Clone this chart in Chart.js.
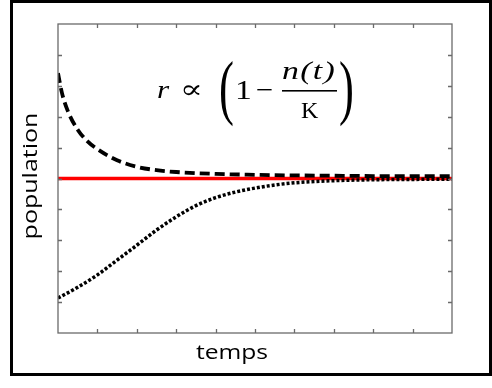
<!DOCTYPE html>
<html>
<head>
<meta charset="utf-8">
<script src="https://cdn.jsdelivr.net/npm/chart.js@4.4.0/dist/chart.umd.min.js"></script>
<style>
  html, body { margin: 0; padding: 0; background: #fff; }
  #frame { position: absolute; left: 10px; top: 0; width: 482px; height: 376px; border: 3px solid #000; box-sizing: border-box; }
  #chart { position: absolute; left: 0; top: 0; }
</style>
</head>
<body>
<div id="frame"></div>
<canvas id="chart" width="492" height="388"></canvas>
<script>
// time axis (arbitrary units) and population
const dashedTime = [0, 0.1, 0.25, 0.5, 0.75, 1, 1.5, 2, 2.5, 3, 4, 5, 6, 7, 8, 9, 10]
const dashedPop = [0.841, 0.777, 0.718, 0.658, 0.62, 0.595, 0.559, 0.538, 0.527, 0.521, 0.515, 0.512, 0.51, 0.509, 0.508, 0.508, 0.508]

const dottedTime = [0, 0.5, 1, 1.5, 2, 2.5, 3, 3.5, 4, 4.5, 5, 5.5, 6, 6.5, 7, 8, 9, 10]
const dottedPop = [0.113, 0.148, 0.188, 0.236, 0.284, 0.333, 0.376, 0.412, 0.438, 0.456, 0.469, 0.479, 0.486, 0.49, 0.493, 0.496, 0.497, 0.498]

const capacityTime = [0, 10]
const capacityPop = [0.5, 0.5]

const xTicks = [1, 2, 3, 4, 5, 6, 7, 8, 9]
const yTicks = [0.1, 0.2, 0.3, 0.4, 0.5, 0.6, 0.7, 0.8, 0.9]

const toPoints = (xs, ys) => xs.map((x, i) => ({x: x, y: ys[i]}))

// text drawn with a horizontal stretch, like the original picture
function stretched(ctx, text, x, y, font, sx, sy) {
    ctx.save()
    ctx.font = font
    ctx.translate(x, y)
    ctx.scale(sx, sy || 1)
    ctx.fillText(text, 0, 0)
    ctx.restore()
}

// box, inward ticks, axis labels and the formula
const decorations = {
    id: 'decorations',
    afterDraw(chart) {
        const ctx = chart.ctx
        const a = chart.chartArea
        const sx = chart.scales.x, sy = chart.scales.y
        ctx.save()
        ctx.strokeStyle = '#6a6a6a'
        ctx.lineWidth = 1.3
        ctx.strokeRect(a.left, a.top, a.right - a.left, a.bottom - a.top)
        ctx.beginPath()
        xTicks.forEach(v => {
            const px = Math.round(sx.getPixelForValue(v)) + 0.5
            ctx.moveTo(px, a.bottom); ctx.lineTo(px, a.bottom - 4)
            ctx.moveTo(px, a.top); ctx.lineTo(px, a.top + 4)
        })
        yTicks.forEach(v => {
            const py = Math.round(sy.getPixelForValue(v)) + 0.5
            ctx.moveTo(a.left, py); ctx.lineTo(a.left + 4, py)
            ctx.moveTo(a.right, py); ctx.lineTo(a.right - 4, py)
        })
        ctx.stroke()

        // axis titles
        ctx.fillStyle = '#000'
        ctx.textAlign = 'center'
        ctx.textBaseline = 'middle'
        stretched(ctx, 'temps', 232, 353, '20px "Open Sans"', 1.23)
        ctx.save()
        ctx.translate(31, 176)
        ctx.rotate(-Math.PI / 2)
        stretched(ctx, 'population', 0, 0, '20px "Open Sans"', 1.25)
        ctx.restore()

        // r ∝ (1 − n(t)/K)
        ctx.textAlign = 'left'
        ctx.textBaseline = 'alphabetic'
        stretched(ctx, 'r', 157, 98, 'italic 26px "Liberation Serif"', 1.2)
        stretched(ctx, '\u221D', 180, 98, '26px "DejaVu Serif"', 1.3)
        stretched(ctx, '1', 235, 99, '28px "Liberation Serif"', 1.2)
        stretched(ctx, '\u2212', 256, 99, '28px "Liberation Serif"', 1.1)
        ctx.letterSpacing = '1px'
        stretched(ctx, 'n(t)', 282, 79, 'italic 26px "Liberation Serif"', 1.3)
        ctx.letterSpacing = '0px'
        stretched(ctx, 'K', 301, 118, '24px "Liberation Serif"', 1)
        ctx.fillRect(282, 90, 55, 1.6)
        // tall brackets
        stretched(ctx, '(', 219, 111, '28px "Liberation Serif"', 1.6, 2.6)
        stretched(ctx, ')', 339, 111, '28px "Liberation Serif"', 1.6, 2.6)
        ctx.restore()
    }
}

new Chart(document.getElementById('chart'), {
    type: 'line',
    data: {
        datasets: [{
            label: 'n0 > K',
            data: toPoints(dashedTime, dashedPop),
            borderColor: '#000',
            borderWidth: 3.8,
            borderDash: [10, 5],
            cubicInterpolationMode: 'monotone',
            pointRadius: 0
        }, {
            label: 'n0 < K',
            data: toPoints(dottedTime, dottedPop),
            borderColor: '#000',
            borderWidth: 3.5,
            borderDash: [3, 2],
            cubicInterpolationMode: 'monotone',
            pointRadius: 0
        }, {
            label: 'K',
            data: toPoints(capacityTime, capacityPop),
            borderColor: '#ff0000',
            borderWidth: 3.5,
            pointRadius: 0
        }]
    },
    options: {
        responsive: false,
        animation: false,
        layout: {padding: {left: 58, right: 40, top: 24, bottom: 55}},
        scales: {
            x: {type: 'linear', min: 0, max: 10, display: false},
            y: {type: 'linear', min: 0, max: 1, display: false}
        },
        plugins: {legend: {display: false}, tooltip: {enabled: false}}
    },
    plugins: [decorations]
});
</script>
</body>
</html>
